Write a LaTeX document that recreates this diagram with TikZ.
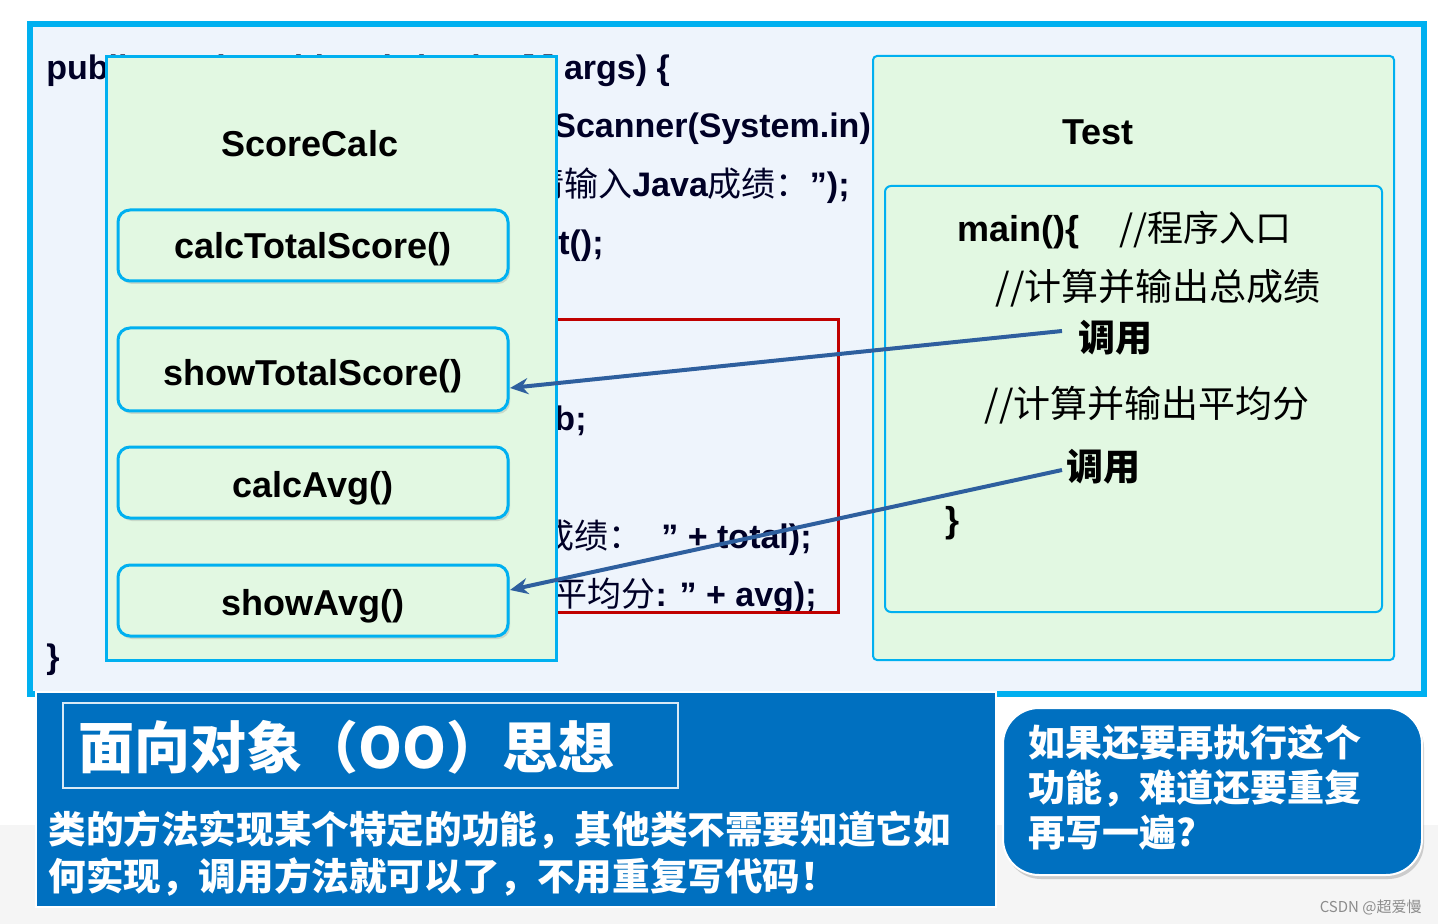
\documentclass[tikz,border=0pt]{standalone}
\usepackage{fontspec}
\setmainfont{Liberation Sans}
\newfontfamily\cjk{Noto Sans CJK SC}
\usetikzlibrary{shadows,arrows.meta}
\newcommand\qq{\char34\relax}
\definecolor{cyanb}{HTML}{00B0F0}
\definecolor{lgreen}{HTML}{E2F8E2}
\definecolor{lblue}{HTML}{EEF4FC}
\definecolor{dblue}{HTML}{0070C0}
\definecolor{arr}{HTML}{2E5F9E}
\definecolor{redb}{HTML}{C00000}
\tikzset{
 code/.style={font=\fontsize{17}{20}\selectfont\bfseries,inner sep=0pt,text=black!85!blue},
 method/.style={draw=cyanb,line width=1.5pt,fill=lgreen,rounded corners=6pt,drop shadow={opacity=0.25,shadow xshift=1pt,shadow yshift=-1.5pt}},
 mtext/.style={font=\fontsize{18}{20}\selectfont\bfseries,inner sep=0pt},
 ttext/.style={font=\fontsize{18.5}{22}\selectfont\cjk,inner sep=0pt},
 calltext/.style={font=\fontsize{18.5}{22}\selectfont\cjk\bfseries,inner sep=0pt},
 callarrow/.style={draw=arr,line width=2pt,-{Stealth[length=9pt,width=8pt]}}
}
\begin{document}
\begin{tikzpicture}[x=0.5pt,y=-0.5pt]
\useasboundingbox (0,0) rectangle (1438,924);
\fill[white] (0,0) rectangle (1438,924);
\fill[black!4] (0,825) rectangle (1438,924);
% outer box
\draw[cyanb,line width=3pt,fill=lblue] (30,24) rectangle (1424,694);
% code
\node[code,anchor=base west] (c1) at (46,80) {public static void main(String[ ] args) \{};
\node[code,anchor=base west] (c2) at (553,138) {Scanner(System.in);};
\node[code,anchor=base east] (c3) at (850,197) {System.out.print(\qq{\mdseries\cjk 请输入}Java{\mdseries\cjk 成绩：}\qq);};
\node[code,anchor=base east] (c4) at (604,255) {int java = input.nextInt();};
\node[code,anchor=base east] (c5) at (587,430) {int total = java + c + db;};
\node[code,anchor=base east] (c6) at (812,548) {System.out.println(\qq{\mdseries\cjk 总成绩：}\ \ \qq\ + total);};
\node[code,anchor=base east] (c7) at (817,606) {System.out.println(\qq{\mdseries\cjk 平均分}: \qq\ + avg);};
\node[code,anchor=base west] (c8) at (46,668) {\}};
\draw[redb,line width=1.5pt] (540,320) rectangle (838,612);
% ScoreCalc
\draw[cyanb,line width=1.5pt,fill=lgreen] (106,57) rectangle (556,660);
\node[mtext] (sc) at (310,144) {ScoreCalc};
\draw[method] (118,210) rectangle (508,281);
\node[mtext] (m1) at (313,249) {calcTotalScore()};
\draw[method] (118,328) rectangle (508,411);
\node[mtext] (m2) at (313,376) {showTotalScore()};
\draw[method] (118,447) rectangle (508,518);
\node[mtext] (m3) at (313,488) {calcAvg()};
\draw[method] (118,565) rectangle (508,636);
\node[mtext] (m4) at (313,606) {showAvg()};
\coordinate (t2) at (510,388);
\coordinate (t4) at (510,590);
% Test
\draw[cyanb,line width=1pt,fill=lgreen,rounded corners=2pt] (873,56) rectangle (1394,660);
\node[mtext] (tt) at (1098,132) {Test};
\draw[cyanb,line width=1pt,fill=lgreen,rounded corners=3pt] (885,186) rectangle (1382,612);
\node[mtext,anchor=base west] (mn) at (957,242) {main()\{\ \ \ \ {\mdseries\cjk //程序入口}};
\node[ttext] (k1) at (1158,288) {//计算并输出总成绩};
\node[calltext] (d1) at (1115,338) {调用};
\node[ttext] (k2) at (1147,405) {//计算并输出平均分};
\node[calltext] (d2) at (1103,467) {调用};
\node[mtext,anchor=base west] (cb) at (945,532) {\}};
\coordinate (s1) at (1062,331);
\coordinate (s2) at (1062,470);
\draw[callarrow] (s1) -- (t2);
\draw[callarrow] (s2) -- (t4);
% bottom left panel
\fill[dblue] (36,692) rectangle (996,907);
\draw[white,line width=0.8pt] (36,692) rectangle (996,907);
\draw[white!85!dblue,line width=1pt] (63,703) rectangle (678,788);
\node[font=\fontsize{28}{30}\selectfont\cjk\bfseries,text=white,anchor=west,inner sep=0pt] (h) at (78,747) {面向对象（OO）思想};
\node[font=\fontsize{18.8}{24}\selectfont\cjk\bfseries,text=white,anchor=base west,inner sep=0pt] (b1) at (48,843) {类的方法实现某个特定的功能，其他类不需要知道它如};
\node[font=\fontsize{18.8}{24}\selectfont\cjk\bfseries,text=white,anchor=base west,inner sep=0pt] (b2) at (48,890) {何实现，调用方法就可以了，不用重复写代码！};
% callout
\draw[white,line width=1pt,fill=dblue,rounded corners=18pt,drop shadow={opacity=0.35,shadow xshift=1pt,shadow yshift=-2pt}] (1003,708) rectangle (1422,875);
\node[calltext,text=white,anchor=north west,align=left,font=\fontsize{18.5}{22.5}\selectfont\cjk\bfseries] (q) at (1028,724) {如果还要再执行这个\\功能，难道还要重复\\再写一遍?};
\node[font=\fontsize{7.5}{9}\selectfont\cjk,text=black!45,anchor=east,inner sep=0pt] (wm) at (1422,907) {CSDN @超爱慢};
\end{tikzpicture}
\end{document}
